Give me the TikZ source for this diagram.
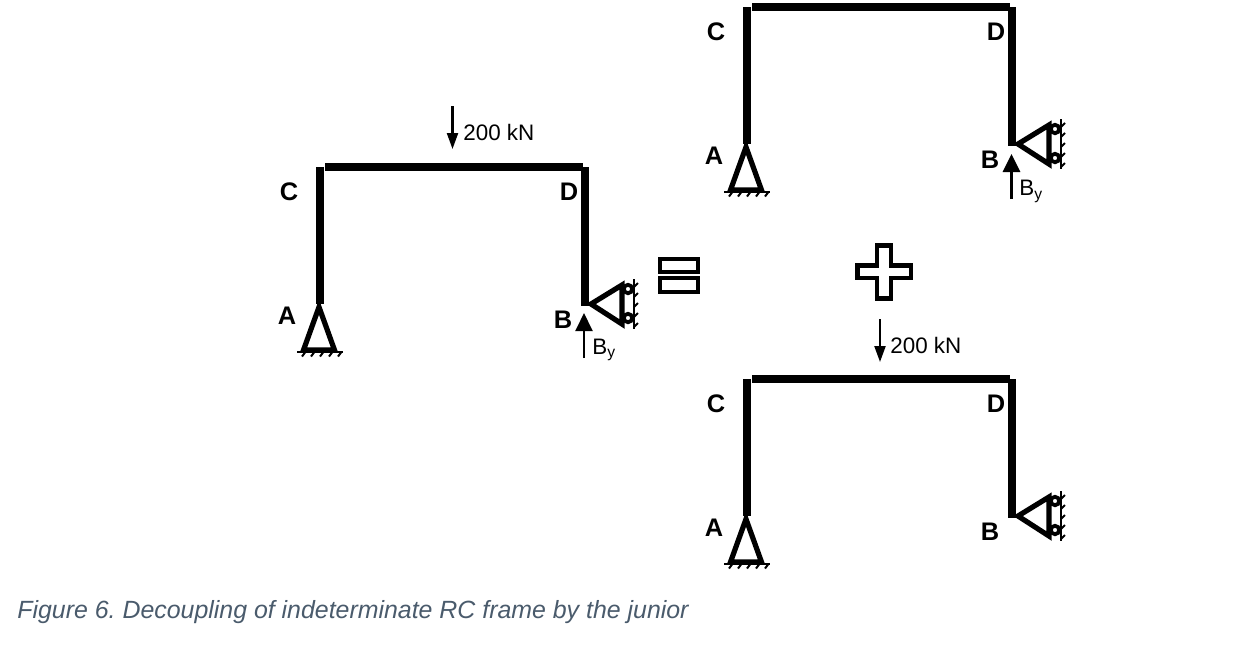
\documentclass[tikz,border=0pt]{standalone}
\usepackage{fontspec}
\setmainfont{Liberation Sans}
\usetikzlibrary{arrows.meta}
\definecolor{capcol}{HTML}{4A5B6C}
\frenchspacing
\tikzset{
  x=0.5pt,y=-0.5pt,
  member/.style={line width=3.8pt,line cap=butt},
  supp/.style={line width=2.6pt,line join=miter},
  thinline/.style={line width=1pt},
  hatch/.style={line width=1pt},
  ptlabel/.style={font=\fontsize{12.7}{14}\selectfont\bfseries,inner sep=0pt},
  loadlabel/.style={font=\fontsize{11.2}{13}\selectfont,inner sep=0pt,anchor=west},
  loadarrow/.style={line width=1.1pt,-{Triangle[length=8pt,width=5.5pt]}},
  reacarrow/.style={line width=1pt,-{Triangle[length=9pt,width=8.5pt]}},
  symb/.style={line width=2.4pt,draw=black,fill=white},
}
% #1 prefix, #2 dx, #3 dy
\newcommand{\rcframe}[3]{
 \begin{scope}[shift={(#2,#3)}]
  \coordinate (#1cb) at (320,304);
  \coordinate (#1ct) at (320,167);
  \coordinate (#1bl) at (325,167);
  \coordinate (#1br) at (583,167);
  \coordinate (#1dt) at (585,167);
  \coordinate (#1db) at (585,306);
  \draw[member] (#1cb) -- (#1ct);
  \draw[member] (#1bl) -- (#1br);
  \draw[member] (#1dt) -- (#1db);
  % pinned support
  \draw[supp] (319,307) -- (303.5,350) -- (334.5,350) -- cycle;
  \draw[thinline] (297,352) -- (343,352);
  \foreach \hx in {305,314,323,332,341}
    \draw[hatch] (\hx,352.5) -- (\hx-3,356.5);
  % roller support
  \draw[supp] (591,304) -- (622,285) -- (622,324) -- cycle;
  \draw[line width=1.9pt] (628,289) circle (4.2);
  \draw[line width=1.9pt] (628,318) circle (4.2);
  \draw[thinline] (634,279) -- (634,329);
  \foreach \hy in {287,297,307,317,327}
    \draw[hatch] (634,\hy) -- (638,\hy-4);
  \node[ptlabel] (#1C) at (289,192) {C};
  \node[ptlabel] (#1D) at (569,192) {D};
  \node[ptlabel] (#1A) at (287,316) {A};
  \node[ptlabel] (#1B) at (563,319.5) {B};
 \end{scope}
}
\begin{document}
\begin{tikzpicture}
\useasboundingbox (0,0) rectangle (1248,645);
\fill[white] (0,0) rectangle (1248,645);

\rcframe{f}{0}{0}
\rcframe{t}{427}{-160}
\rcframe{u}{427}{212}

% applied loads
\coordinate (l1s) at (452.5,106);
\coordinate (l1e) at (452.5,149);
\draw[loadarrow] (l1s) -- (l1e);
\node[loadlabel] (l1) at (463,132.5) {200 kN};
\coordinate (l2s) at (880,319);
\coordinate (l2e) at (880,362);
\draw[loadarrow] (l2s) -- (l2e);
\node[loadlabel] (l2) at (890,345) {200 kN};

% reactions
\coordinate (r1s) at (584,358);
\coordinate (r1e) at (584,313);
\draw[reacarrow] (r1s) -- (r1e);
\node[loadlabel] (r1) at (592,350) {B\textsubscript{y}};
\coordinate (r2s) at (1011.5,199);
\coordinate (r2e) at (1011.5,154);
\draw[reacarrow,line width=1.4pt] (r2s) -- (r2e);
\node[loadlabel] (r2) at (1019,191.5) {B\textsubscript{y}};

% equals
\draw[symb] (660,259) rectangle (698,272);
\draw[symb] (660,278) rectangle (698,292);
% plus
\draw[symb] (877,245.5) -- (891,245.5) -- (891,265.5) -- (911,265.5) -- (911,278)
  -- (891,278) -- (891,298.5) -- (877,298.5) -- (877,278) -- (857.5,278)
  -- (857.5,265.5) -- (877,265.5) -- cycle;

\node[anchor=base west,inner sep=0pt,text=capcol,font=\fontsize{12.45}{14}\selectfont\itshape] (cap) at (17,618)
  {Figure 6. Decoupling of indeterminate RC frame by the junior};
\end{tikzpicture}
\end{document}
